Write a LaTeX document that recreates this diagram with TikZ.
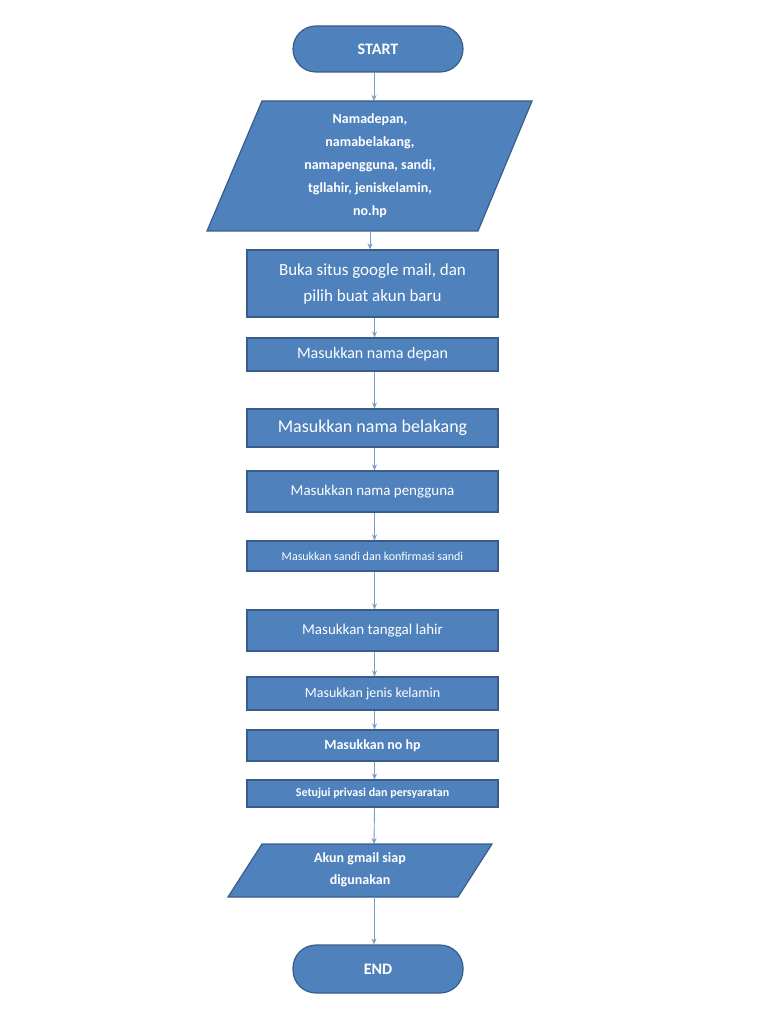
\documentclass[tikz,border=0pt]{standalone}
\usepackage{fontspec}
\setmainfont{Carlito}
\usetikzlibrary{arrows.meta}
\definecolor{fillb}{HTML}{4F81BD}
\definecolor{lineb}{HTML}{385D8A}
\definecolor{arr}{HTML}{7A9CC6}
\begin{document}
\begin{tikzpicture}[x=1pt,y=-1pt,
  blk/.style={draw=lineb,line width=1.2pt,fill=fillb,text=white,align=center,inner sep=0pt},
  procbox/.style={blk,minimum width=251pt},
  term/.style={blk,rounded corners=23pt,minimum width=170pt,minimum height=46pt,font=\bfseries\fontsize{16}{18}\selectfont},
  conn/.style={draw=arr,line width=0.9pt,-{Stealth[length=6pt,width=5pt]}}]
\useasboundingbox (0,0) rectangle (768,1024);
\node[term] (start) at (378,49) {START};
\draw[blk] (262,101) -- (532,101) -- (478,231) -- (207,231) -- cycle;
\node[text=white,align=center,font=\bfseries\fontsize{14}{23}\selectfont] (in) at (370,166) {Namadepan,\\namabelakang,\\namapengguna, sandi,\\tgllahir, jeniskelamin,\\no.hp};
\coordinate (inN) at (374,101); \coordinate (inS) at (370,231);
\node[procbox,minimum height=67pt,font=\fontsize{17}{26}\selectfont] (b1) at (372.5,283.5) {Buka situs google mail, dan\\pilih buat akun baru};
\node[procbox,minimum height=33pt,font=\fontsize{16}{18}\selectfont] (b2) at (372.5,354.5) {Masukkan nama depan};
\node[procbox,minimum height=38pt,font=\fontsize{18}{20}\selectfont] (b3) at (372.5,428) {Masukkan nama belakang};
\node[procbox,minimum height=41pt,font=\fontsize{15}{18}\selectfont] (b4) at (372.5,491.5) {Masukkan nama pengguna};
\node[procbox,minimum height=30pt,font=\fontsize{12}{14}\selectfont] (b5) at (372.5,556) {Masukkan sandi dan konfirmasi sandi};
\node[procbox,minimum height=41pt,font=\fontsize{15}{18}\selectfont] (b6) at (372.5,630.5) {Masukkan tanggal lahir};
\node[procbox,minimum height=33pt,font=\fontsize{14}{16}\selectfont] (b7) at (372.5,693.5) {Masukkan jenis kelamin};
\node[procbox,minimum height=31pt,font=\bfseries\fontsize{14}{16}\selectfont] (b8) at (372.5,745.5) {Masukkan no hp};
\node[procbox,minimum height=27pt,font=\bfseries\fontsize{12}{14}\selectfont] (b9) at (372.5,793.5) {Setujui privasi dan persyaratan};
\draw[blk] (262,844) -- (492,844) -- (458,897) -- (228,897) -- cycle;
\node[text=white,align=center,font=\bfseries\fontsize{14}{22}\selectfont] (out) at (360,870) {Akun gmail siap\\digunakan};
\coordinate (outN) at (374,844); \coordinate (outS) at (374,897);
\node[term,minimum height=48pt] (end) at (378,969) {END};
\draw[conn] (start.south -| inN) -- (inN);
\draw[conn] (inS) -- (inS |- b1.north);
\foreach \a/\b in {b1/b2,b2/b3,b3/b4,b4/b5,b5/b6,b6/b7,b7/b8,b8/b9}
  \draw[conn] ([xshift=2pt]\a.south) -- ([xshift=2pt]\b.north);
\draw[conn] ([xshift=2pt]b9.south) -- (outN);
\draw[conn] (outS) -- (outS |- end.north);
\end{tikzpicture}
\end{document}
